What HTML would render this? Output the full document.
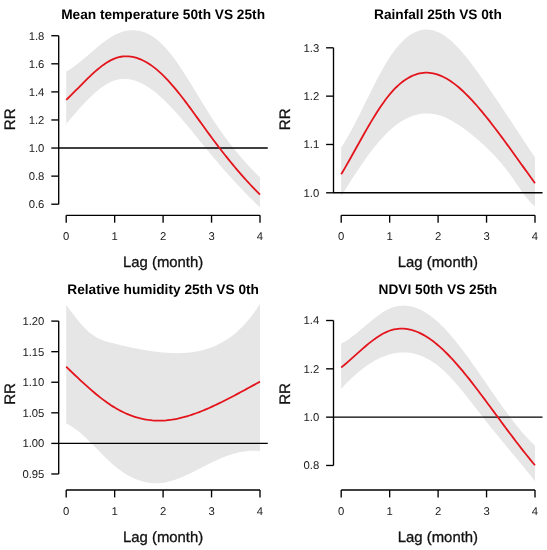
<!DOCTYPE html>
<html><head><meta charset="utf-8"><style>
html,body{margin:0;padding:0;background:#fff;}
svg{display:block;will-change:transform;}
text{text-rendering:geometricPrecision;}
</style></head><body>
<svg width="547" height="550" viewBox="0 0 547 550" font-family="Liberation Sans, sans-serif">
<rect width="547" height="550" fill="#fff"/>
<polygon points="66.20,71.57 68.16,70.44 70.12,69.22 72.07,67.91 74.03,66.53 75.99,65.08 77.95,63.57 79.90,62.01 81.86,60.41 83.82,58.77 85.78,57.11 87.73,55.43 89.69,53.74 91.65,52.05 93.61,50.36 95.56,48.70 97.52,47.05 99.48,45.44 101.44,43.87 103.39,42.35 105.35,40.89 107.31,39.49 109.27,38.16 111.22,36.92 113.18,35.77 115.14,34.72 117.10,33.77 119.05,32.93 121.01,32.20 122.97,31.57 124.93,31.06 126.88,30.66 128.84,30.38 130.80,30.21 132.76,30.15 134.72,30.22 136.67,30.40 138.63,30.71 140.59,31.13 142.55,31.68 144.50,32.36 146.46,33.16 148.42,34.08 150.38,35.14 152.33,36.33 154.29,37.65 156.25,39.10 158.21,40.68 160.16,42.41 162.12,44.26 164.08,46.26 166.04,48.39 167.99,50.65 169.95,53.03 171.91,55.52 173.87,58.12 175.82,60.81 177.78,63.59 179.74,66.44 181.70,69.38 183.65,72.37 185.61,75.42 187.57,78.52 189.53,81.66 191.48,84.84 193.44,88.04 195.40,91.26 197.36,94.48 199.32,97.71 201.27,100.93 203.23,104.14 205.19,107.32 207.15,110.48 209.10,113.60 211.06,116.67 213.02,119.69 214.98,122.65 216.93,125.56 218.89,128.42 220.85,131.23 222.81,133.98 224.76,136.68 226.72,139.33 228.68,141.93 230.64,144.49 232.59,146.99 234.55,149.45 236.51,151.86 238.47,154.23 240.42,156.55 242.38,158.82 244.34,161.06 246.30,163.25 248.25,165.39 250.21,167.50 252.17,169.57 254.13,171.60 256.08,173.58 258.04,175.54 260.00,177.45 260.00,207.50 258.04,205.61 256.08,203.71 254.13,201.79 252.17,199.85 250.21,197.89 248.25,195.91 246.30,193.91 244.34,191.89 242.38,189.86 240.42,187.80 238.47,185.72 236.51,183.63 234.55,181.52 232.59,179.38 230.64,177.23 228.68,175.06 226.72,172.86 224.76,170.65 222.81,168.42 220.85,166.17 218.89,163.90 216.93,161.60 214.98,159.29 213.02,156.96 211.06,154.61 209.10,152.24 207.15,149.85 205.19,147.45 203.23,145.04 201.27,142.63 199.32,140.21 197.36,137.80 195.40,135.38 193.44,132.98 191.48,130.58 189.53,128.20 187.57,125.84 185.61,123.50 183.65,121.18 181.70,118.89 179.74,116.62 177.78,114.40 175.82,112.21 173.87,110.06 171.91,107.95 169.95,105.89 167.99,103.89 166.04,101.93 164.08,100.04 162.12,98.20 160.16,96.43 158.21,94.72 156.25,93.09 154.29,91.52 152.33,90.04 150.38,88.63 148.42,87.30 146.46,86.06 144.50,84.91 142.55,83.85 140.59,82.88 138.63,82.01 136.67,81.24 134.72,80.57 132.76,80.02 130.80,79.57 128.84,79.23 126.88,79.01 124.93,78.90 122.97,78.92 121.01,79.07 119.05,79.34 117.10,79.74 115.14,80.28 113.18,80.95 111.22,81.76 109.27,82.69 107.31,83.75 105.35,84.92 103.39,86.20 101.44,87.59 99.48,89.08 97.52,90.66 95.56,92.33 93.61,94.08 91.65,95.90 89.69,97.80 87.73,99.76 85.78,101.77 83.82,103.84 81.86,105.96 79.90,108.12 77.95,110.31 75.99,112.54 74.03,114.79 72.07,117.05 70.12,119.33 68.16,121.62 66.20,123.90" fill="#e6e6e6"/>
<line x1="58.45" x2="267.75" y1="148.05" y2="148.05" stroke="#000" stroke-width="1.4"/>
<polyline points="66.20,99.88 68.16,98.02 70.12,96.11 72.07,94.18 74.03,92.22 75.99,90.24 77.95,88.26 79.90,86.27 81.86,84.29 83.82,82.32 85.78,80.37 87.73,78.45 89.69,76.56 91.65,74.71 93.61,72.91 95.56,71.17 97.52,69.48 99.48,67.87 101.44,66.34 103.39,64.89 105.35,63.53 107.31,62.27 109.27,61.11 111.22,60.07 113.18,59.15 115.14,58.35 117.10,57.69 119.05,57.16 121.01,56.75 122.97,56.47 124.93,56.32 126.88,56.29 128.84,56.38 130.80,56.59 132.76,56.91 134.72,57.35 136.67,57.90 138.63,58.56 140.59,59.33 142.55,60.21 144.50,61.19 146.46,62.28 148.42,63.46 150.38,64.75 152.33,66.13 154.29,67.60 156.25,69.17 158.21,70.83 160.16,72.58 162.12,74.42 164.08,76.34 166.04,78.34 167.99,80.42 169.95,82.57 171.91,84.79 173.87,87.08 175.82,89.42 177.78,91.82 179.74,94.27 181.70,96.77 183.65,99.31 185.61,101.89 187.57,104.50 189.53,107.14 191.48,109.80 193.44,112.48 195.40,115.18 197.36,117.89 199.32,120.61 201.27,123.33 203.23,126.04 205.19,128.75 207.15,131.45 209.10,134.13 211.06,136.80 213.02,139.44 214.98,142.05 216.93,144.64 218.89,147.20 220.85,149.73 222.81,152.24 224.76,154.73 226.72,157.18 228.68,159.61 230.64,162.01 232.59,164.39 234.55,166.73 236.51,169.05 238.47,171.34 240.42,173.61 242.38,175.84 244.34,178.05 246.30,180.23 248.25,182.38 250.21,184.50 252.17,186.59 254.13,188.65 256.08,190.68 258.04,192.68 260.00,194.65" fill="none" stroke="#e3141c" stroke-width="1.8" stroke-linejoin="round"/>
<line x1="58.70" x2="58.70" y1="35.73" y2="204.21" stroke="#000" stroke-width="1.35"/>
<line x1="51.30" x2="58.70" y1="204.21" y2="204.21" stroke="#000" stroke-width="1.35"/>
<text x="44.40" y="208.11" text-anchor="end" font-size="11.3" fill="#1a1a1a">0.6</text>
<line x1="51.30" x2="58.70" y1="176.13" y2="176.13" stroke="#000" stroke-width="1.35"/>
<text x="44.40" y="180.03" text-anchor="end" font-size="11.3" fill="#1a1a1a">0.8</text>
<line x1="51.30" x2="58.70" y1="148.05" y2="148.05" stroke="#000" stroke-width="1.35"/>
<text x="44.40" y="151.95" text-anchor="end" font-size="11.3" fill="#1a1a1a">1.0</text>
<line x1="51.30" x2="58.70" y1="119.97" y2="119.97" stroke="#000" stroke-width="1.35"/>
<text x="44.40" y="123.87" text-anchor="end" font-size="11.3" fill="#1a1a1a">1.2</text>
<line x1="51.30" x2="58.70" y1="91.89" y2="91.89" stroke="#000" stroke-width="1.35"/>
<text x="44.40" y="95.79" text-anchor="end" font-size="11.3" fill="#1a1a1a">1.4</text>
<line x1="51.30" x2="58.70" y1="63.81" y2="63.81" stroke="#000" stroke-width="1.35"/>
<text x="44.40" y="67.71" text-anchor="end" font-size="11.3" fill="#1a1a1a">1.6</text>
<line x1="51.30" x2="58.70" y1="35.73" y2="35.73" stroke="#000" stroke-width="1.35"/>
<text x="44.40" y="39.63" text-anchor="end" font-size="11.3" fill="#1a1a1a">1.8</text>
<line x1="66.20" x2="260.00" y1="215.30" y2="215.30" stroke="#000" stroke-width="1.35"/>
<line x1="66.20" x2="66.20" y1="215.30" y2="222.70" stroke="#000" stroke-width="1.35"/>
<text x="66.20" y="240.00" text-anchor="middle" font-size="11.3" fill="#1a1a1a">0</text>
<line x1="114.65" x2="114.65" y1="215.30" y2="222.70" stroke="#000" stroke-width="1.35"/>
<text x="114.65" y="240.00" text-anchor="middle" font-size="11.3" fill="#1a1a1a">1</text>
<line x1="163.10" x2="163.10" y1="215.30" y2="222.70" stroke="#000" stroke-width="1.35"/>
<text x="163.10" y="240.00" text-anchor="middle" font-size="11.3" fill="#1a1a1a">2</text>
<line x1="211.55" x2="211.55" y1="215.30" y2="222.70" stroke="#000" stroke-width="1.35"/>
<text x="211.55" y="240.00" text-anchor="middle" font-size="11.3" fill="#1a1a1a">3</text>
<line x1="260.00" x2="260.00" y1="215.30" y2="222.70" stroke="#000" stroke-width="1.35"/>
<text x="260.00" y="240.00" text-anchor="middle" font-size="11.3" fill="#1a1a1a">4</text>
<text x="163.10" y="266.80" text-anchor="middle" font-size="14.9" fill="#111" stroke="#111" stroke-width="0.3">Lag (month)</text>
<text transform="translate(14.90,119.20) rotate(-90)" text-anchor="middle" font-size="15.2" fill="#111" stroke="#111" stroke-width="0.3">RR</text>
<text x="163.10" y="18.90" text-anchor="middle" font-size="13.7" font-weight="bold" fill="#000">Mean temperature 50th VS 25th</text>
<polygon points="341.20,147.39 343.16,144.40 345.12,141.25 347.07,137.96 349.03,134.54 350.99,131.00 352.95,127.36 354.90,123.63 356.86,119.82 358.82,115.95 360.78,112.03 362.73,108.08 364.69,104.10 366.65,100.12 368.61,96.14 370.56,92.19 372.52,88.26 374.48,84.38 376.44,80.56 378.39,76.81 380.35,73.15 382.31,69.59 384.27,66.15 386.22,62.83 388.18,59.65 390.14,56.62 392.10,53.76 394.05,51.07 396.01,48.53 397.97,46.16 399.93,43.95 401.88,41.90 403.84,40.01 405.80,38.27 407.76,36.70 409.72,35.29 411.67,34.03 413.63,32.93 415.59,31.98 417.55,31.19 419.50,30.56 421.46,30.07 423.42,29.74 425.38,29.57 427.33,29.54 429.29,29.67 431.25,29.94 433.21,30.37 435.16,30.94 437.12,31.66 439.08,32.53 441.04,33.54 442.99,34.70 444.95,35.98 446.91,37.40 448.87,38.93 450.82,40.58 452.78,42.35 454.74,44.22 456.70,46.19 458.65,48.26 460.61,50.42 462.57,52.66 464.53,54.98 466.48,57.37 468.44,59.84 470.40,62.36 472.36,64.95 474.32,67.58 476.27,70.27 478.23,72.99 480.19,75.75 482.15,78.54 484.10,81.35 486.06,84.19 488.02,87.04 489.98,89.90 491.93,92.77 493.89,95.66 495.85,98.55 497.81,101.46 499.76,104.37 501.72,107.29 503.68,110.22 505.64,113.15 507.59,116.09 509.55,119.04 511.51,121.99 513.47,124.95 515.42,127.91 517.38,130.87 519.34,133.84 521.30,136.80 523.25,139.77 525.21,142.74 527.17,145.71 529.13,148.67 531.08,151.64 533.04,154.60 535.00,157.55 535.00,206.40 533.04,204.79 531.08,202.92 529.13,200.81 527.17,198.50 525.21,196.01 523.25,193.39 521.30,190.67 519.34,187.86 517.38,185.01 515.42,182.15 513.47,179.30 511.51,176.50 509.55,173.78 507.59,171.15 505.64,168.61 503.68,166.15 501.72,163.77 499.76,161.46 497.81,159.23 495.85,157.06 493.89,154.96 491.93,152.92 489.98,150.94 488.02,149.01 486.06,147.14 484.10,145.31 482.15,143.53 480.19,141.79 478.23,140.08 476.27,138.41 474.32,136.77 472.36,135.15 470.40,133.57 468.44,132.02 466.48,130.51 464.53,129.04 462.57,127.61 460.61,126.23 458.65,124.90 456.70,123.63 454.74,122.42 452.78,121.27 450.82,120.18 448.87,119.16 446.91,118.22 444.95,117.35 442.99,116.56 441.04,115.85 439.08,115.23 437.12,114.70 435.16,114.27 433.21,113.92 431.25,113.67 429.29,113.51 427.33,113.44 425.38,113.47 423.42,113.58 421.46,113.80 419.50,114.10 417.55,114.50 415.59,114.99 413.63,115.58 411.67,116.26 409.72,117.03 407.76,117.90 405.80,118.87 403.84,119.93 401.88,121.08 399.93,122.33 397.97,123.68 396.01,125.12 394.05,126.66 392.10,128.29 390.14,130.02 388.18,131.85 386.22,133.77 384.27,135.78 382.31,137.88 380.35,140.06 378.39,142.33 376.44,144.67 374.48,147.08 372.52,149.57 370.56,152.12 368.61,154.74 366.65,157.42 364.69,160.15 362.73,162.94 360.78,165.78 358.82,168.67 356.86,171.60 354.90,174.57 352.95,177.58 350.99,180.62 349.03,183.69 347.07,186.79 345.12,189.92 343.16,193.06 341.20,196.22" fill="#e6e6e6"/>
<line x1="333.25" x2="542.55" y1="192.80" y2="192.80" stroke="#000" stroke-width="1.4"/>
<polyline points="341.20,174.27 343.16,170.95 345.12,167.58 347.07,164.17 349.03,160.72 350.99,157.25 352.95,153.75 354.90,150.24 356.86,146.73 358.82,143.22 360.78,139.72 362.73,136.24 364.69,132.78 366.65,129.36 368.61,125.99 370.56,122.66 372.52,119.39 374.48,116.19 376.44,113.06 378.39,110.01 380.35,107.05 382.31,104.19 384.27,101.43 386.22,98.79 388.18,96.26 390.14,93.87 392.10,91.60 394.05,89.47 396.01,87.48 397.97,85.61 399.93,83.87 401.88,82.26 403.84,80.78 405.80,79.43 407.76,78.21 409.72,77.11 411.67,76.13 413.63,75.28 415.59,74.55 417.55,73.94 419.50,73.46 421.46,73.09 423.42,72.84 425.38,72.72 427.33,72.70 429.29,72.81 431.25,73.03 433.21,73.36 435.16,73.81 437.12,74.37 439.08,75.05 441.04,75.83 442.99,76.72 444.95,77.71 446.91,78.80 448.87,79.99 450.82,81.27 452.78,82.65 454.74,84.11 456.70,85.65 458.65,87.27 460.61,88.98 462.57,90.75 464.53,92.60 466.48,94.52 468.44,96.50 470.40,98.55 472.36,100.65 474.32,102.80 476.27,105.01 478.23,107.27 480.19,109.57 482.15,111.92 484.10,114.31 486.06,116.73 488.02,119.18 489.98,121.67 491.93,124.18 493.89,126.72 495.85,129.29 497.81,131.88 499.76,134.49 501.72,137.12 503.68,139.77 505.64,142.44 507.59,145.12 509.55,147.82 511.51,150.52 513.47,153.24 515.42,155.96 517.38,158.69 519.34,161.42 521.30,164.15 523.25,166.89 525.21,169.62 527.17,172.35 529.13,175.07 531.08,177.79 533.04,180.50 535.00,183.20" fill="none" stroke="#e3141c" stroke-width="1.8" stroke-linejoin="round"/>
<line x1="333.50" x2="333.50" y1="47.81" y2="192.80" stroke="#000" stroke-width="1.35"/>
<line x1="326.10" x2="333.50" y1="192.80" y2="192.80" stroke="#000" stroke-width="1.35"/>
<text x="319.20" y="196.70" text-anchor="end" font-size="11.3" fill="#1a1a1a">1.0</text>
<line x1="326.10" x2="333.50" y1="144.47" y2="144.47" stroke="#000" stroke-width="1.35"/>
<text x="319.20" y="148.37" text-anchor="end" font-size="11.3" fill="#1a1a1a">1.1</text>
<line x1="326.10" x2="333.50" y1="96.14" y2="96.14" stroke="#000" stroke-width="1.35"/>
<text x="319.20" y="100.04" text-anchor="end" font-size="11.3" fill="#1a1a1a">1.2</text>
<line x1="326.10" x2="333.50" y1="47.81" y2="47.81" stroke="#000" stroke-width="1.35"/>
<text x="319.20" y="51.71" text-anchor="end" font-size="11.3" fill="#1a1a1a">1.3</text>
<line x1="341.20" x2="535.00" y1="215.30" y2="215.30" stroke="#000" stroke-width="1.35"/>
<line x1="341.20" x2="341.20" y1="215.30" y2="222.70" stroke="#000" stroke-width="1.35"/>
<text x="341.20" y="240.00" text-anchor="middle" font-size="11.3" fill="#1a1a1a">0</text>
<line x1="389.65" x2="389.65" y1="215.30" y2="222.70" stroke="#000" stroke-width="1.35"/>
<text x="389.65" y="240.00" text-anchor="middle" font-size="11.3" fill="#1a1a1a">1</text>
<line x1="438.10" x2="438.10" y1="215.30" y2="222.70" stroke="#000" stroke-width="1.35"/>
<text x="438.10" y="240.00" text-anchor="middle" font-size="11.3" fill="#1a1a1a">2</text>
<line x1="486.55" x2="486.55" y1="215.30" y2="222.70" stroke="#000" stroke-width="1.35"/>
<text x="486.55" y="240.00" text-anchor="middle" font-size="11.3" fill="#1a1a1a">3</text>
<line x1="535.00" x2="535.00" y1="215.30" y2="222.70" stroke="#000" stroke-width="1.35"/>
<text x="535.00" y="240.00" text-anchor="middle" font-size="11.3" fill="#1a1a1a">4</text>
<text x="437.90" y="266.80" text-anchor="middle" font-size="14.9" fill="#111" stroke="#111" stroke-width="0.3">Lag (month)</text>
<text transform="translate(289.70,119.20) rotate(-90)" text-anchor="middle" font-size="15.2" fill="#111" stroke="#111" stroke-width="0.3">RR</text>
<text x="437.90" y="18.90" text-anchor="middle" font-size="13.7" font-weight="bold" fill="#000">Rainfall 25th VS 0th</text>
<polygon points="66.20,304.90 68.16,307.56 70.12,310.20 72.07,312.80 74.03,315.37 75.99,317.87 77.95,320.31 79.90,322.66 81.86,324.91 83.82,327.04 85.78,329.05 87.73,330.92 89.69,332.64 91.65,334.18 93.61,335.57 95.56,336.80 97.52,337.89 99.48,338.86 101.44,339.72 103.39,340.49 105.35,341.17 107.31,341.78 109.27,342.34 111.22,342.85 113.18,343.34 115.14,343.81 117.10,344.28 119.05,344.74 121.01,345.20 122.97,345.65 124.93,346.09 126.88,346.53 128.84,346.96 130.80,347.38 132.76,347.78 134.72,348.18 136.67,348.57 138.63,348.95 140.59,349.32 142.55,349.67 144.50,350.01 146.46,350.34 148.42,350.65 150.38,350.95 152.33,351.23 154.29,351.50 156.25,351.75 158.21,351.98 160.16,352.19 162.12,352.39 164.08,352.56 166.04,352.72 167.99,352.85 169.95,352.96 171.91,353.04 173.87,353.10 175.82,353.14 177.78,353.14 179.74,353.11 181.70,353.05 183.65,352.96 185.61,352.84 187.57,352.68 189.53,352.48 191.48,352.24 193.44,351.96 195.40,351.65 197.36,351.28 199.32,350.88 201.27,350.43 203.23,349.93 205.19,349.38 207.15,348.79 209.10,348.14 211.06,347.44 213.02,346.69 214.98,345.88 216.93,345.00 218.89,344.07 220.85,343.07 222.81,342.00 224.76,340.85 226.72,339.63 228.68,338.32 230.64,336.93 232.59,335.46 234.55,333.89 236.51,332.23 238.47,330.47 240.42,328.61 242.38,326.65 244.34,324.57 246.30,322.39 248.25,320.09 250.21,317.67 252.17,315.13 254.13,312.47 256.08,309.68 258.04,306.75 260.00,303.70 260.00,451.13 258.04,450.94 256.08,450.81 254.13,450.76 252.17,450.77 250.21,450.84 248.25,450.98 246.30,451.18 244.34,451.43 242.38,451.75 240.42,452.11 238.47,452.53 236.51,453.00 234.55,453.52 232.59,454.08 230.64,454.69 228.68,455.34 226.72,456.03 224.76,456.76 222.81,457.53 220.85,458.33 218.89,459.16 216.93,460.02 214.98,460.91 213.02,461.83 211.06,462.77 209.10,463.73 207.15,464.71 205.19,465.71 203.23,466.71 201.27,467.72 199.32,468.74 197.36,469.75 195.40,470.75 193.44,471.74 191.48,472.72 189.53,473.68 187.57,474.62 185.61,475.53 183.65,476.41 181.70,477.25 179.74,478.06 177.78,478.82 175.82,479.54 173.87,480.21 171.91,480.82 169.95,481.37 167.99,481.86 166.04,482.28 164.08,482.63 162.12,482.91 160.16,483.11 158.21,483.23 156.25,483.27 154.29,483.24 152.33,483.13 150.38,482.94 148.42,482.68 146.46,482.34 144.50,481.92 142.55,481.42 140.59,480.84 138.63,480.19 136.67,479.46 134.72,478.66 132.76,477.77 130.80,476.81 128.84,475.77 126.88,474.65 124.93,473.46 122.97,472.18 121.01,470.83 119.05,469.40 117.10,467.90 115.14,466.31 113.18,464.65 111.22,462.92 109.27,461.12 107.31,459.27 105.35,457.38 103.39,455.44 101.44,453.49 99.48,451.51 97.52,449.52 95.56,447.53 93.61,445.55 91.65,443.58 89.69,441.64 87.73,439.74 85.78,437.87 83.82,436.06 81.86,434.31 79.90,432.62 77.95,431.01 75.99,429.49 74.03,428.07 72.07,426.75 70.12,425.54 68.16,424.45 66.20,423.49" fill="#e6e6e6"/>
<line x1="58.45" x2="267.75" y1="443.40" y2="443.40" stroke="#000" stroke-width="1.4"/>
<polyline points="66.20,366.71 68.16,368.60 70.12,370.49 72.07,372.37 74.03,374.25 75.99,376.11 77.95,377.96 79.90,379.80 81.86,381.62 83.82,383.42 85.78,385.20 87.73,386.95 89.69,388.68 91.65,390.38 93.61,392.05 95.56,393.69 97.52,395.30 99.48,396.87 101.44,398.39 103.39,399.88 105.35,401.33 107.31,402.73 109.27,404.08 111.22,405.38 113.18,406.63 115.14,407.83 117.10,408.97 119.05,410.06 121.01,411.09 122.97,412.06 124.93,412.99 126.88,413.85 128.84,414.67 130.80,415.43 132.76,416.14 134.72,416.79 136.67,417.40 138.63,417.95 140.59,418.45 142.55,418.90 144.50,419.29 146.46,419.64 148.42,419.94 150.38,420.18 152.33,420.38 154.29,420.53 156.25,420.63 158.21,420.68 160.16,420.68 162.12,420.63 164.08,420.54 166.04,420.40 167.99,420.21 169.95,419.98 171.91,419.71 173.87,419.39 175.82,419.03 177.78,418.64 179.74,418.20 181.70,417.73 183.65,417.23 185.61,416.69 187.57,416.11 189.53,415.51 191.48,414.87 193.44,414.20 195.40,413.51 197.36,412.78 199.32,412.04 201.27,411.26 203.23,410.47 205.19,409.65 207.15,408.81 209.10,407.95 211.06,407.07 213.02,406.18 214.98,405.27 216.93,404.34 218.89,403.40 220.85,402.45 222.81,401.48 224.76,400.50 226.72,399.51 228.68,398.50 230.64,397.49 232.59,396.47 234.55,395.44 236.51,394.40 238.47,393.36 240.42,392.30 242.38,391.25 244.34,390.19 246.30,389.12 248.25,388.05 250.21,386.98 252.17,385.91 254.13,384.84 256.08,383.76 258.04,382.69 260.00,381.62" fill="none" stroke="#e3141c" stroke-width="1.8" stroke-linejoin="round"/>
<line x1="58.70" x2="58.70" y1="321.10" y2="473.98" stroke="#000" stroke-width="1.35"/>
<line x1="51.30" x2="58.70" y1="473.98" y2="473.98" stroke="#000" stroke-width="1.35"/>
<text x="44.40" y="477.88" text-anchor="end" font-size="11.3" fill="#1a1a1a">0.95</text>
<line x1="51.30" x2="58.70" y1="443.40" y2="443.40" stroke="#000" stroke-width="1.35"/>
<text x="44.40" y="447.30" text-anchor="end" font-size="11.3" fill="#1a1a1a">1.00</text>
<line x1="51.30" x2="58.70" y1="412.82" y2="412.82" stroke="#000" stroke-width="1.35"/>
<text x="44.40" y="416.72" text-anchor="end" font-size="11.3" fill="#1a1a1a">1.05</text>
<line x1="51.30" x2="58.70" y1="382.25" y2="382.25" stroke="#000" stroke-width="1.35"/>
<text x="44.40" y="386.15" text-anchor="end" font-size="11.3" fill="#1a1a1a">1.10</text>
<line x1="51.30" x2="58.70" y1="351.68" y2="351.68" stroke="#000" stroke-width="1.35"/>
<text x="44.40" y="355.57" text-anchor="end" font-size="11.3" fill="#1a1a1a">1.15</text>
<line x1="51.30" x2="58.70" y1="321.10" y2="321.10" stroke="#000" stroke-width="1.35"/>
<text x="44.40" y="325.00" text-anchor="end" font-size="11.3" fill="#1a1a1a">1.20</text>
<line x1="66.20" x2="260.00" y1="490.00" y2="490.00" stroke="#000" stroke-width="1.35"/>
<line x1="66.20" x2="66.20" y1="490.00" y2="497.40" stroke="#000" stroke-width="1.35"/>
<text x="66.20" y="514.70" text-anchor="middle" font-size="11.3" fill="#1a1a1a">0</text>
<line x1="114.65" x2="114.65" y1="490.00" y2="497.40" stroke="#000" stroke-width="1.35"/>
<text x="114.65" y="514.70" text-anchor="middle" font-size="11.3" fill="#1a1a1a">1</text>
<line x1="163.10" x2="163.10" y1="490.00" y2="497.40" stroke="#000" stroke-width="1.35"/>
<text x="163.10" y="514.70" text-anchor="middle" font-size="11.3" fill="#1a1a1a">2</text>
<line x1="211.55" x2="211.55" y1="490.00" y2="497.40" stroke="#000" stroke-width="1.35"/>
<text x="211.55" y="514.70" text-anchor="middle" font-size="11.3" fill="#1a1a1a">3</text>
<line x1="260.00" x2="260.00" y1="490.00" y2="497.40" stroke="#000" stroke-width="1.35"/>
<text x="260.00" y="514.70" text-anchor="middle" font-size="11.3" fill="#1a1a1a">4</text>
<text x="163.10" y="541.50" text-anchor="middle" font-size="14.9" fill="#111" stroke="#111" stroke-width="0.3">Lag (month)</text>
<text transform="translate(14.90,393.90) rotate(-90)" text-anchor="middle" font-size="15.2" fill="#111" stroke="#111" stroke-width="0.3">RR</text>
<text x="163.10" y="293.60" text-anchor="middle" font-size="13.7" font-weight="bold" fill="#000">Relative humidity 25th VS 0th</text>
<polygon points="341.20,343.62 343.16,342.58 345.12,341.44 347.07,340.20 349.03,338.88 350.99,337.48 352.95,336.01 354.90,334.48 356.86,332.91 358.82,331.30 360.78,329.66 362.73,328.00 364.69,326.33 366.65,324.67 368.61,323.02 370.56,321.39 372.52,319.78 374.48,318.22 376.44,316.71 378.39,315.26 380.35,313.88 382.31,312.58 384.27,311.37 386.22,310.26 388.18,309.26 390.14,308.38 392.10,307.62 394.05,306.98 396.01,306.47 397.97,306.08 399.93,305.81 401.88,305.66 403.84,305.62 405.80,305.70 407.76,305.89 409.72,306.19 411.67,306.60 413.63,307.12 415.59,307.75 417.55,308.48 419.50,309.32 421.46,310.26 423.42,311.30 425.38,312.43 427.33,313.67 429.29,315.00 431.25,316.42 433.21,317.94 435.16,319.55 437.12,321.24 439.08,323.03 441.04,324.89 442.99,326.85 444.95,328.87 446.91,330.98 448.87,333.15 450.82,335.39 452.78,337.70 454.74,340.06 456.70,342.48 458.65,344.96 460.61,347.48 462.57,350.05 464.53,352.67 466.48,355.32 468.44,358.01 470.40,360.73 472.36,363.47 474.32,366.25 476.27,369.04 478.23,371.85 480.19,374.68 482.15,377.51 484.10,380.35 486.06,383.20 488.02,386.05 489.98,388.89 491.93,391.73 493.89,394.55 495.85,397.36 497.81,400.16 499.76,402.93 501.72,405.69 503.68,408.41 505.64,411.11 507.59,413.77 509.55,416.40 511.51,418.98 513.47,421.53 515.42,424.02 517.38,426.47 519.34,428.86 521.30,431.20 523.25,433.47 525.21,435.69 527.17,437.84 529.13,439.91 531.08,441.92 533.04,443.85 535.00,445.69 535.00,481.31 533.04,478.81 531.08,476.33 529.13,473.87 527.17,471.43 525.21,469.01 523.25,466.61 521.30,464.21 519.34,461.83 517.38,459.46 515.42,457.10 513.47,454.74 511.51,452.39 509.55,450.04 507.59,447.69 505.64,445.34 503.68,442.98 501.72,440.62 499.76,438.25 497.81,435.87 495.85,433.48 493.89,431.08 491.93,428.66 489.98,426.23 488.02,423.78 486.06,421.30 484.10,418.81 482.15,416.30 480.19,413.77 478.23,411.25 476.27,408.72 474.32,406.19 472.36,403.67 470.40,401.16 468.44,398.67 466.48,396.20 464.53,393.76 462.57,391.35 460.61,388.97 458.65,386.64 456.70,384.35 454.74,382.12 452.78,379.93 450.82,377.81 448.87,375.76 446.91,373.77 444.95,371.86 442.99,370.03 441.04,368.28 439.08,366.62 437.12,365.05 435.16,363.58 433.21,362.21 431.25,360.93 429.29,359.74 427.33,358.64 425.38,357.64 423.42,356.72 421.46,355.90 419.50,355.16 417.55,354.52 415.59,353.96 413.63,353.48 411.67,353.09 409.72,352.79 407.76,352.57 405.80,352.43 403.84,352.38 401.88,352.40 399.93,352.51 397.97,352.70 396.01,352.96 394.05,353.31 392.10,353.73 390.14,354.22 388.18,354.79 386.22,355.44 384.27,356.16 382.31,356.95 380.35,357.82 378.39,358.75 376.44,359.75 374.48,360.83 372.52,361.97 370.56,363.18 368.61,364.45 366.65,365.79 364.69,367.20 362.73,368.67 360.78,370.20 358.82,371.79 356.86,373.44 354.90,375.15 352.95,376.93 350.99,378.75 349.03,380.64 347.07,382.58 345.12,384.58 343.16,386.63 341.20,388.74" fill="#e6e6e6"/>
<line x1="333.25" x2="542.55" y1="417.15" y2="417.15" stroke="#000" stroke-width="1.4"/>
<polyline points="341.20,367.52 343.16,365.91 345.12,364.25 347.07,362.56 349.03,360.85 350.99,359.11 352.95,357.36 354.90,355.61 356.86,353.85 358.82,352.10 360.78,350.36 362.73,348.65 364.69,346.96 366.65,345.30 368.61,343.68 370.56,342.11 372.52,340.60 374.48,339.14 376.44,337.76 378.39,336.44 380.35,335.21 382.31,334.07 384.27,333.02 386.22,332.07 388.18,331.23 390.14,330.51 392.10,329.90 394.05,329.42 396.01,329.04 397.97,328.78 399.93,328.64 401.88,328.60 403.84,328.67 405.80,328.85 407.76,329.13 409.72,329.51 411.67,329.99 413.63,330.57 415.59,331.25 417.55,332.02 419.50,332.88 421.46,333.84 423.42,334.88 425.38,336.00 427.33,337.21 429.29,338.50 431.25,339.88 433.21,341.33 435.16,342.86 437.12,344.46 439.08,346.13 441.04,347.87 442.99,349.69 444.95,351.56 446.91,353.50 448.87,355.50 450.82,357.55 452.78,359.66 454.74,361.82 456.70,364.03 458.65,366.29 460.61,368.59 462.57,370.93 464.53,373.31 466.48,375.72 468.44,378.17 470.40,380.65 472.36,383.16 474.32,385.69 476.27,388.25 478.23,390.83 480.19,393.42 482.15,396.03 484.10,398.65 486.06,401.28 488.02,403.92 489.98,406.56 491.93,409.21 493.89,411.86 495.85,414.51 497.81,417.16 499.76,419.81 501.72,422.45 503.68,425.09 505.64,427.72 507.59,430.35 509.55,432.96 511.51,435.56 513.47,438.15 515.42,440.72 517.38,443.28 519.34,445.81 521.30,448.33 523.25,450.83 525.21,453.30 527.17,455.75 529.13,458.18 531.08,460.58 533.04,462.95 535.00,465.29" fill="none" stroke="#e3141c" stroke-width="1.8" stroke-linejoin="round"/>
<line x1="333.50" x2="333.50" y1="320.51" y2="465.47" stroke="#000" stroke-width="1.35"/>
<line x1="326.10" x2="333.50" y1="465.47" y2="465.47" stroke="#000" stroke-width="1.35"/>
<text x="319.20" y="469.37" text-anchor="end" font-size="11.3" fill="#1a1a1a">0.8</text>
<line x1="326.10" x2="333.50" y1="417.15" y2="417.15" stroke="#000" stroke-width="1.35"/>
<text x="319.20" y="421.05" text-anchor="end" font-size="11.3" fill="#1a1a1a">1.0</text>
<line x1="326.10" x2="333.50" y1="368.83" y2="368.83" stroke="#000" stroke-width="1.35"/>
<text x="319.20" y="372.73" text-anchor="end" font-size="11.3" fill="#1a1a1a">1.2</text>
<line x1="326.10" x2="333.50" y1="320.51" y2="320.51" stroke="#000" stroke-width="1.35"/>
<text x="319.20" y="324.41" text-anchor="end" font-size="11.3" fill="#1a1a1a">1.4</text>
<line x1="341.20" x2="535.00" y1="490.00" y2="490.00" stroke="#000" stroke-width="1.35"/>
<line x1="341.20" x2="341.20" y1="490.00" y2="497.40" stroke="#000" stroke-width="1.35"/>
<text x="341.20" y="514.70" text-anchor="middle" font-size="11.3" fill="#1a1a1a">0</text>
<line x1="389.65" x2="389.65" y1="490.00" y2="497.40" stroke="#000" stroke-width="1.35"/>
<text x="389.65" y="514.70" text-anchor="middle" font-size="11.3" fill="#1a1a1a">1</text>
<line x1="438.10" x2="438.10" y1="490.00" y2="497.40" stroke="#000" stroke-width="1.35"/>
<text x="438.10" y="514.70" text-anchor="middle" font-size="11.3" fill="#1a1a1a">2</text>
<line x1="486.55" x2="486.55" y1="490.00" y2="497.40" stroke="#000" stroke-width="1.35"/>
<text x="486.55" y="514.70" text-anchor="middle" font-size="11.3" fill="#1a1a1a">3</text>
<line x1="535.00" x2="535.00" y1="490.00" y2="497.40" stroke="#000" stroke-width="1.35"/>
<text x="535.00" y="514.70" text-anchor="middle" font-size="11.3" fill="#1a1a1a">4</text>
<text x="437.90" y="541.50" text-anchor="middle" font-size="14.9" fill="#111" stroke="#111" stroke-width="0.3">Lag (month)</text>
<text transform="translate(289.70,393.90) rotate(-90)" text-anchor="middle" font-size="15.2" fill="#111" stroke="#111" stroke-width="0.3">RR</text>
<text x="437.90" y="293.60" text-anchor="middle" font-size="13.7" font-weight="bold" fill="#000">NDVI 50th VS 25th</text>
</svg>
</body></html>
